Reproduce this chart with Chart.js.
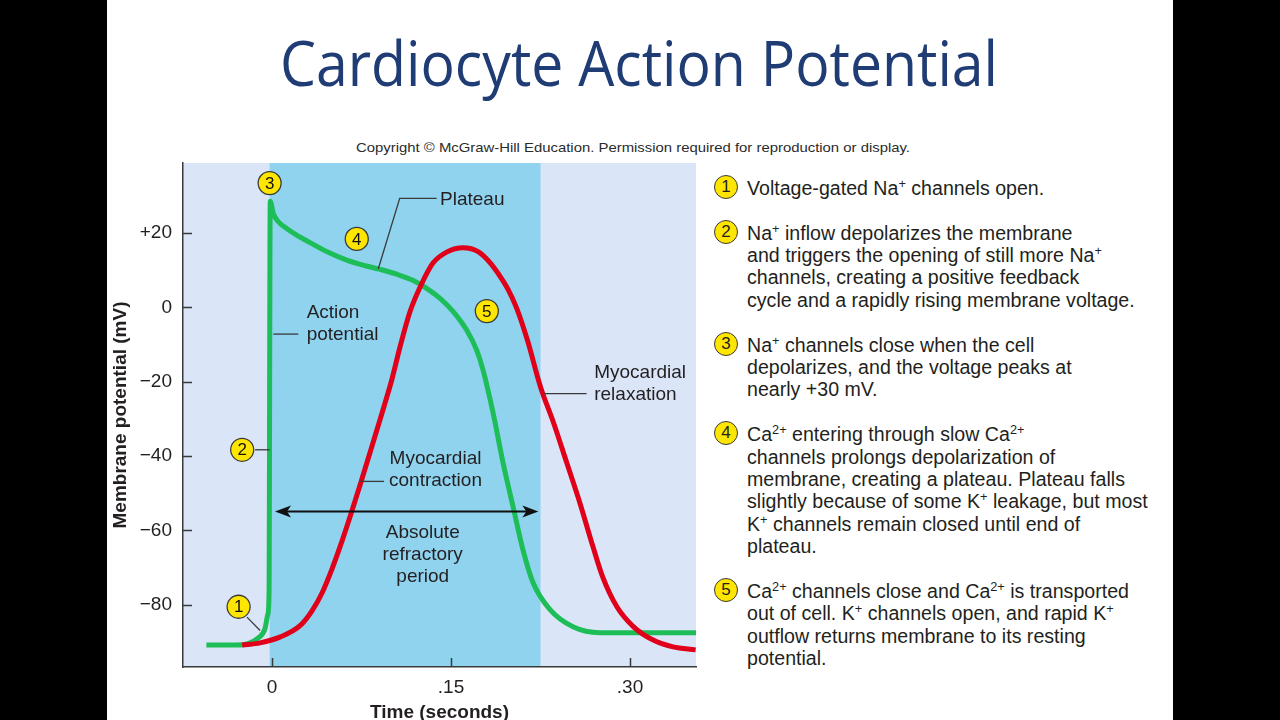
<!DOCTYPE html>
<html>
<head>
<meta charset="utf-8">
<script src="https://cdn.jsdelivr.net/npm/chart.js@4.4.1/dist/chart.umd.min.js"></script>
<style>
html, body { margin: 0; padding: 0; width: 1280px; height: 720px; overflow: hidden; background: #000; }
#slide { position: absolute; left: 107px; top: 0; width: 1066px; height: 720px; background: #fff; }
#title { position: absolute; left: 639px; top: 31px; white-space: nowrap; font-family: "Open Sans", sans-serif;
  font-size: 62px; line-height: 62px; color: #1f3c74; }
#copyright { position: absolute; left: 633px; top: 140px; white-space: nowrap; font-family: "Liberation Sans", Arial, sans-serif;
  font-size: 13.5px; line-height: 16px; color: #2b2b2b; }
#chartBox { position: absolute; left: 100px; top: 155px; width: 600px; height: 575px; }
#notes { position: absolute; left: 747px; top: 176.8px; font-family: "Liberation Sans", Arial, sans-serif;
  font-size: 19.6px; line-height: 22.4px; color: #231f20; white-space: nowrap; }
#notes p { position: relative; margin: 0 0 22.4px 0; }
#notes sup { font-size: 0.65em; line-height: 0; vertical-align: 0.55em; }
.num { position: absolute; left: -33px; top: -2px; width: 22px; height: 22px; border-radius: 50%; background: #ffe600;
  border: 1.3px solid #3a3a3a; font-size: 17px; line-height: 22px; text-align: center; }
</style>
</head>
<body>
<div id="slide"></div>
<div id="title">Cardiocyte Action Potential</div>
<div id="copyright">Copyright © McGraw-Hill Education. Permission required for reproduction or display.</div>
<div id="chartBox"><canvas id="chart"></canvas></div>
<div id="notes">
<p><span class="num">1</span>Voltage-gated Na<sup>+</sup> channels open.</p>
<p><span class="num">2</span>Na<sup>+</sup> inflow depolarizes the membrane<br>and triggers the opening of still more Na<sup>+</sup><br>channels, creating a positive feedback<br>cycle and a rapidly rising membrane voltage.</p>
<p><span class="num">3</span>Na<sup>+</sup> channels close when the cell<br>depolarizes, and the voltage peaks at<br>nearly +30 mV.</p>
<p><span class="num">4</span>Ca<sup>2+</sup> entering through slow Ca<sup>2+</sup><br>channels prolongs depolarization of<br>membrane, creating a plateau. Plateau falls<br>slightly because of some K<sup>+</sup> leakage, but most<br>K<sup>+</sup> channels remain closed until end of<br>plateau.</p>
<p><span class="num">5</span>Ca<sup>2+</sup> channels close and Ca<sup>2+</sup> is transported<br>out of cell. K<sup>+</sup> channels open, and rapid K<sup>+</sup><br>outflow returns membrane to its resting<br>potential.</p>
</div>
<script>
// action potential (green): time in s, potential in mV
const apTime = [-0.055, -0.030, -0.020, -0.012, -0.006, -0.0035, -0.0025, -0.0015, 0.0011, 0.0053, 0.0123, 0.0207,
  0.0318, 0.0458, 0.0626, 0.0793, 0.0905, 0.1045, 0.1184, 0.1296, 0.1408, 0.1520, 0.1631, 0.1715, 0.1768, 0.1852,
  0.1936, 0.2020, 0.2103, 0.2187, 0.2330, 0.2522, 0.2749, 0.356];
const apVolt = [-90.8, -90.8, -90.4, -89.0, -86.5, -82.5, -77.0, 28.5, 25.2, 23.0, 21.2, 19.4,
  17.4, 15.0, 12.7, 11.1, 10.2, 8.9, 7.2, 5.1, 2.4, -1.2, -6.1, -11.5, -16.8, -28.3,
  -41.8, -53.6, -65.2, -74.0, -81.3, -85.9, -87.5, -87.5];

// myocardial contraction (red), drawn on the same axes
const conTime = [-0.025, -0.010, 0.007, 0.0235, 0.0335, 0.0419, 0.0503, 0.0587, 0.0670, 0.0754, 0.0838, 0.0922,
  0.1006, 0.1073, 0.1156, 0.1249, 0.1349, 0.1467, 0.160, 0.173, 0.183, 0.191, 0.198, 0.205, 0.214, 0.225,
  0.236, 0.247, 0.258, 0.269, 0.277, 0.289, 0.303, 0.319, 0.336, 0.355];
const conVolt = [-90.8, -90.2, -88.6, -85.6, -81.6, -76.8, -70.3, -62.8, -54.7, -46.1, -37.3, -28.4,
  -19.2, -10.6, -1.2, 6.0, 11.9, 14.9, 16.0, 14.9, 11.9, 8.4, 4.7, -0.2, -8.8, -21.4,
  -31.1, -41.8, -52.6, -64.4, -72.4, -80.5, -85.9, -89.4, -91.3, -92.1];

const xTickValues = [0, 0.15, 0.30];
const xTickLabels = ['0', '.15', '.30'];
const yTickValues = [20, 0, -20, -40, -60, -80];
const yTickLabels = ['+20', '0', '\u221220', '\u221240', '\u221260', '\u221280'];

// absolute refractory period (shaded band), seconds
const refractoryBand = [-0.002, 0.225];

// numbered markers
const markerNums = ['1', '2', '3', '4', '5'];
const markerTime = [-0.028, -0.025, -0.002, 0.071, 0.180];
const markerVolt = [-80.5, -38.3, 33.4, 18.4, -1.0];

// text labels inside the plot (first line anchor)
const labelLines = [['Plateau'], ['Action', 'potential'], ['Myocardial', 'contraction'],
  ['Absolute', 'refractory', 'period'], ['Myocardial', 'relaxation']];
const labelTime = [0.1408, 0.029, 0.137, 0.1263, 0.270];
const labelVolt = [28.9, -1.4, -40.8, -60.6, -17.6];
const labelAlign = ['left', 'left', 'center', 'center', 'left'];

// leader lines, [time, mV] pairs
const leaders = [
  [[-0.021, -83.3], [-0.010, -86.9]],
  [[-0.0142, -38.3], [-0.002, -38.3]],
  [[0.0011, -7.2], [0.022, -7.2]],
  [[0.138, 29.3], [0.107, 29.3], [0.089, 10.3]],
  [[0.0737, -46.8], [0.0939, -46.8]],
  [[0.2275, -23.2], [0.2636, -23.2]],
];
const arrowSpan = [0.0025, 0.2232];
const arrowVolt = -54.9;

const FONT = '"Liberation Sans", Arial, sans-serif';
const INK = '#231f20';
const AXIS = '#3a3a3a';

function fitWidth(id, target) {
  const el = document.getElementById(id);
  const w = el.getBoundingClientRect().width;
  el.style.transform = 'translateX(-50%) scaleX(' + (target / w) + ')';
}
fitWidth('title', 718);
fitWidth('copyright', 554);

const backdrop = {
  id: 'backdrop',
  beforeDraw(chart) {
    const {ctx, chartArea: a, scales: {x}} = chart;
    ctx.save();
    ctx.fillStyle = '#dae6f8';
    ctx.fillRect(a.left, a.top, a.right - a.left, a.bottom - a.top);
    const x0 = x.getPixelForValue(refractoryBand[0]);
    const x1 = x.getPixelForValue(refractoryBand[1]);
    ctx.fillStyle = '#8fd3ef';
    ctx.fillRect(x0, a.top, x1 - x0, a.bottom - a.top);
    ctx.restore();
  },
  beforeDatasetsDraw(chart) {
    // tick marks point into the plot
    const {ctx, chartArea: a, scales: {x, y}} = chart;
    ctx.save();
    ctx.strokeStyle = AXIS;
    ctx.lineWidth = 1.5;
    ctx.beginPath();
    yTickValues.forEach(v => {
      const py = Math.round(y.getPixelForValue(v)) + 0.5;
      ctx.moveTo(a.left, py);
      ctx.lineTo(a.left + 9, py);
    });
    xTickValues.forEach(v => {
      const px = Math.round(x.getPixelForValue(v)) + 0.5;
      ctx.moveTo(px, a.bottom);
      ctx.lineTo(px, a.bottom - 9);
    });
    ctx.stroke();
    ctx.restore();
  }
};

const notes = {
  id: 'notes',
  afterDatasetsDraw(chart) {
    const {ctx, scales: {x, y}} = chart;
    ctx.save();
    ctx.strokeStyle = AXIS;
    ctx.lineWidth = 1.3;
    leaders.forEach(pts => {
      ctx.beginPath();
      pts.forEach(([t, v], i) => {
        const px = x.getPixelForValue(t), py = y.getPixelForValue(v);
        if (i === 0) ctx.moveTo(px, py); else ctx.lineTo(px, py);
      });
      ctx.stroke();
    });

    // double-headed arrow
    const ax0 = x.getPixelForValue(arrowSpan[0]);
    const ax1 = x.getPixelForValue(arrowSpan[1]);
    const ay = y.getPixelForValue(arrowVolt);
    ctx.strokeStyle = '#111';
    ctx.fillStyle = '#111';
    ctx.lineWidth = 2;
    ctx.beginPath();
    ctx.moveTo(ax0 + 8, ay);
    ctx.lineTo(ax1 - 8, ay);
    ctx.stroke();
    [[ax0, 1], [ax1, -1]].forEach(([px, d]) => {
      ctx.beginPath();
      ctx.moveTo(px, ay);
      ctx.lineTo(px + d * 16, ay - 6);
      ctx.lineTo(px + d * 12, ay);
      ctx.lineTo(px + d * 16, ay + 6);
      ctx.closePath();
      ctx.fill();
    });

    ctx.fillStyle = INK;
    ctx.font = '19px ' + FONT;
    ctx.textBaseline = 'middle';
    labelLines.forEach((lines, i) => {
      ctx.textAlign = labelAlign[i];
      const px = x.getPixelForValue(labelTime[i]);
      const py = y.getPixelForValue(labelVolt[i]);
      lines.forEach((s, k) => ctx.fillText(s, px, py + k * 22));
    });

    markerNums.forEach((n, i) => {
      const px = x.getPixelForValue(markerTime[i]);
      const py = y.getPixelForValue(markerVolt[i]);
      ctx.beginPath();
      ctx.arc(px, py, 11.5, 0, Math.PI * 2);
      ctx.fillStyle = '#ffe600';
      ctx.fill();
      ctx.lineWidth = 1.3;
      ctx.strokeStyle = AXIS;
      ctx.stroke();
      ctx.fillStyle = '#111';
      ctx.font = '17px ' + FONT;
      ctx.textAlign = 'center';
      ctx.fillText(n, px, py + 1);
    });
    ctx.restore();
  }
};

new Chart(document.getElementById('chart'), {
  type: 'line',
  data: {
    datasets: [
      {
        label: 'Action potential',
        data: apTime.map((t, i) => ({x: t, y: apVolt[i]})),
        borderColor: '#1dbd57',
        borderWidth: 5,
        cubicInterpolationMode: 'monotone',
        pointRadius: 0,
        order: 2,
      },
      {
        label: 'Myocardial contraction',
        data: conTime.map((t, i) => ({x: t, y: conVolt[i]})),
        borderColor: '#e1001a',
        borderWidth: 5,
        cubicInterpolationMode: 'monotone',
        pointRadius: 0,
        order: 1,
      },
    ],
  },
  options: {
    responsive: true,
    maintainAspectRatio: false,
    animation: false,
    events: [],
    layout: { padding: { top: 8, right: 4, left: 0, bottom: 0 }, autoPadding: false },
    plugins: { legend: { display: false }, tooltip: { enabled: false } },
    scales: {
      x: {
        type: 'linear',
        min: -0.0746,
        max: 0.3553,
        afterBuildTicks: s => { s.ticks = xTickValues.map(v => ({value: v})); },
        afterFit: s => { s.height = 63; s.paddingLeft = 0; s.paddingRight = 0; },
        ticks: {
          callback: (v, i) => xTickLabels[i],
          font: { family: FONT, size: 19 },
          color: INK,
          padding: 1,
          maxRotation: 0,
          autoSkip: false,
        },
        grid: { display: false },
        border: { display: true, color: AXIS, width: 1.5 },
        title: {
          display: true,
          text: 'Time (seconds)',
          font: { family: FONT, size: 19, weight: 'bold' },
          color: INK,
          padding: { top: 0, bottom: 6 },
        },
      },
      y: {
        min: -96.7,
        max: 38.8,
        afterBuildTicks: s => { s.ticks = yTickValues.map(v => ({value: v})); },
        afterFit: s => { s.width = 83; s.paddingTop = 0; s.paddingBottom = 0; },
        ticks: {
          callback: (v, i) => yTickLabels[i],
          font: { family: FONT, size: 19 },
          color: INK,
          padding: 3,
          autoSkip: false,
        },
        grid: { display: false },
        border: { display: true, color: AXIS, width: 1.5 },
        title: {
          display: true,
          text: 'Membrane potential (mV)',
          font: { family: FONT, size: 19, weight: 'bold' },
          color: INK,
          padding: { top: 9, bottom: 0 },
        },
      },
    },
  },
  plugins: [backdrop, notes],
});
</script>
</body>
</html>
